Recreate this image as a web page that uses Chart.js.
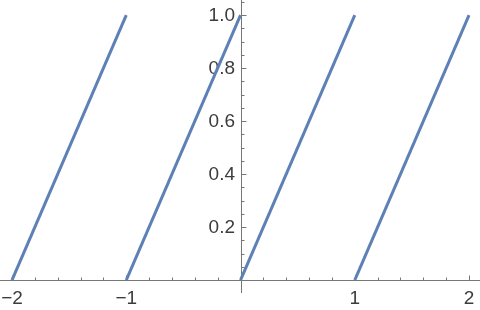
<!DOCTYPE html>
<html>
<head>
<meta charset="utf-8">
<script src="https://cdn.jsdelivr.net/npm/chart.js@4/dist/chart.umd.min.js"></script>
<style>
  html, body { margin: 0; padding: 0; background: #fff; }
  #wrap { width: 480px; height: 310px; }
</style>
</head>
<body>
<div id="wrap"><canvas id="chart" width="480" height="310"></canvas></div>
<script>
// sawtooth segments (fractional part), one start/end pair per segment
const segX0 = [-2, -1, 0, 1];
const segX1 = [-1, 0, 1, 2];
const segY0 = [0, 0, 0, 0];
const segY1 = [1, 1, 1, 1];

const xMajorTicks = [-2, -1, 1, 2];
const xTickLabels = ["\u22122", "\u22121", "1", "2"];
const yMajorTicks = [0.2, 0.4, 0.6, 0.8, 1.0];
const yTickLabels = ["0.2", "0.4", "0.6", "0.8", "1.0"];

const lineColor = "#5e81b5";
const axisColor = "#777777";
const labelColor = "#3c3c3c";

const datasets = segX0.map((x0, i) => ({
  data: [
    { x: x0, y: segY0[i] },
    { x: segX1[i], y: segY1[i] },
  ],
  borderColor: lineColor,
  borderWidth: 3,
  pointRadius: 0,
  fill: false,
}));

// axes through origin, Mathematica style inward ticks (drawn under the lines)
const axesPlugin = {
  id: "originAxes",
  beforeDatasetsDraw(chart) {
    const { ctx, scales } = chart;
    const xs = scales.x;
    const ys = scales.y;
    const x0 = Math.round(xs.getPixelForValue(0)) + 0.5;
    const y0 = Math.round(ys.getPixelForValue(0)) + 0.5;
    ctx.save();
    ctx.strokeStyle = axisColor;
    ctx.lineWidth = 1;

    ctx.beginPath();
    ctx.moveTo(0, y0);
    ctx.lineTo(480, y0);
    ctx.moveTo(x0, 0);
    ctx.lineTo(x0, 293);
    ctx.stroke();

    // x ticks
    ctx.beginPath();
    for (let i = -10; i <= 10; i++) {
      const v = i / 5;
      if (i === 0) continue;
      const px = Math.round(xs.getPixelForValue(v)) + 0.5;
      const len = i % 5 === 0 ? 5 : 3;
      ctx.moveTo(px, y0);
      ctx.lineTo(px, y0 - len);
    }
    // y ticks
    for (let i = 1; i <= 21; i++) {
      const v = i / 20;
      const py = Math.round(ys.getPixelForValue(v)) + 0.5;
      const len = i % 4 === 0 ? 5 : 3;
      ctx.moveTo(x0, py);
      ctx.lineTo(x0 + len, py);
    }
    ctx.stroke();

    ctx.fillStyle = labelColor;
    ctx.font = "19px 'Liberation Sans', Arial, sans-serif";
    ctx.textAlign = "center";
    ctx.textBaseline = "middle";
    xMajorTicks.forEach((v, i) => {
      ctx.fillText(xTickLabels[i], xs.getPixelForValue(v), y0 + 18.5);
    });
    ctx.textAlign = "right";
    yMajorTicks.forEach((v, i) => {
      ctx.fillText(yTickLabels[i], x0 - 6.5, ys.getPixelForValue(v) + 1);
    });
    ctx.restore();
  },
};

new Chart(document.getElementById("chart"), {
  type: "line",
  data: { datasets: datasets },
  options: {
    responsive: false,
    animation: false,
    layout: { padding: 0 },
    plugins: { legend: { display: false }, tooltip: { enabled: false } },
    scales: {
      x: { type: "linear", min: -2.105, max: 2.096, display: false },
      y: { type: "linear", min: -0.113, max: 1.057, display: false },
    },
  },
  plugins: [axesPlugin],
});
</script>
</body>
</html>
